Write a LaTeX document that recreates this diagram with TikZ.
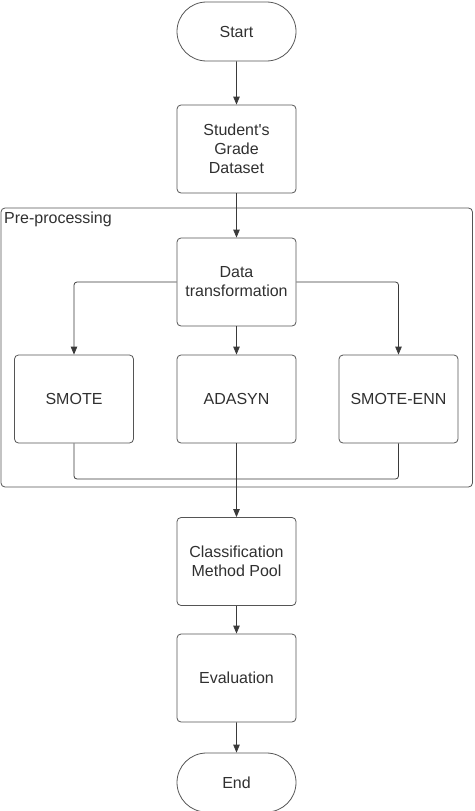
\documentclass[tikz,border=0pt]{standalone}
\usepackage{fontspec}
\setmainfont{Liberation Sans}
\usetikzlibrary{arrows.meta,shapes.misc}
\definecolor{linecol}{HTML}{3A3A3A}
\definecolor{boxcol}{HTML}{555555}
\definecolor{txtcol}{HTML}{303030}
\tikzset{
  x=1pt, y=-1pt,
  procbox/.style={draw=boxcol, line width=0.8pt, rounded corners=4pt, minimum width=119pt, minimum height=88pt, align=center, font=\fontsize{16}{19}\selectfont, text=txtcol, inner sep=0pt},
  termbox/.style={draw=boxcol, line width=0.8pt, rounded rectangle, minimum width=119pt, minimum height=59pt, align=center, font=\fontsize{16}{19}\selectfont, text=txtcol, inner sep=0pt},
  arr/.style={draw=linecol, line width=0.8pt, -{Triangle[length=8pt,width=6.5pt]}},
  conn/.style={draw=linecol, line width=0.8pt, rounded corners=3pt},
  framebox/.style={draw=boxcol, line width=0.8pt, rounded corners=4pt}
}
\begin{document}
\begin{tikzpicture}
\useasboundingbox (0,0) rectangle (474,811);
\begin{scope}
\clip (0,0) rectangle (474,811);
\draw[framebox] (1,208) rectangle (472.5,487);
\node[anchor=west, font=\fontsize{16}{19}\selectfont, text=txtcol, inner sep=0pt] (pre) at (4,219) {Pre-processing};
\node[termbox] (start) at (236.5,31.5) {Start};
\node[procbox] (data) at (236.5,149) {Student\textquotesingle s\\Grade\\Dataset};
\node[procbox] (trans) at (236.5,282) {Data\\transformation};
\node[procbox] (smote) at (74,399) {SMOTE};
\node[procbox] (adasyn) at (236.5,399) {ADASYN};
\node[procbox] (senn) at (398.5,399) {SMOTE-ENN};
\node[procbox] (class) at (236.5,561.5) {Classification\\Method Pool};
\node[procbox] (eval) at (236.5,678) {Evaluation};
\node[termbox] (end) at (236.5,782.5) {End};
\coordinate (merge) at (236.5,479);
\draw[arr] (start) -- (data);
\draw[arr] (data) -- (trans);
\draw[arr] (trans) -- (adasyn);
\draw[arr, rounded corners=3pt] (trans.west) -| (smote.north);
\draw[arr, rounded corners=3pt] (trans.east) -| (senn.north);
\draw[conn] (smote.south) |- (merge) -| (senn.south);
\draw[arr] (adasyn) -- (class);
\draw[arr] (class) -- (eval);
\draw[arr] (eval) -- (end);
\end{scope}
\end{tikzpicture}
\end{document}
